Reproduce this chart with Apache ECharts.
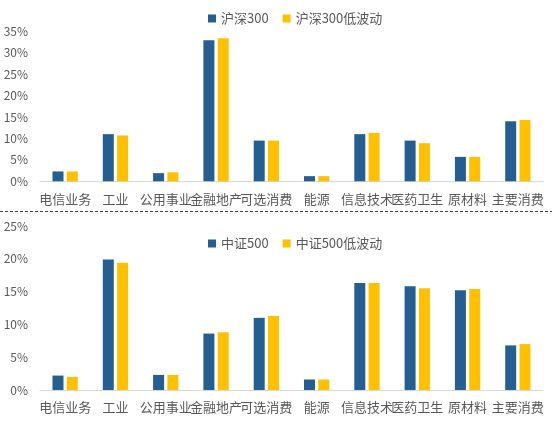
<!DOCTYPE html>
<html><head><meta charset="utf-8">
<script src="https://cdn.jsdelivr.net/npm/echarts@6/dist/echarts.min.js"></script>
<style>html,body{margin:0;padding:0;background:#fff}#c{width:554px;height:421px}</style>
</head><body><div id="c"></div>
<script>
var categories = ['电信业务','工业','公用事业','金融地产','可选消费','能源','信息技术','医药卫生','原材料','主要消费'];
var hs300 = [2.3, 11.0, 1.9, 32.9, 9.5, 1.2, 11.0, 9.5, 5.7, 14.0];
var hs300LowVol = [2.3, 10.7, 2.1, 33.4, 9.5, 1.2, 11.3, 8.9, 5.7, 14.3];
var zz500 = [2.2, 19.9, 2.3, 8.6, 11.0, 1.6, 16.3, 15.8, 15.2, 6.8];
var zz500LowVol = [2.0, 19.4, 2.3, 8.8, 11.3, 1.6, 16.3, 15.5, 15.4, 7.0];
var topTicks = [0, 35, 5];
var bottomTicks = [0, 25, 5];

var blue = '#255E91', yellow = '#FFC000';
var font = '"Microsoft YaHei","Noto Sans CJK SC",sans-serif';
var chart = echarts.init(document.getElementById('c'));
function xAxis(i){return {type:'category',gridIndex:i,data:categories,axisTick:{show:false},
  axisLine:{lineStyle:{color:'#D9D9D9',width:1}},
  axisLabel:{color:'#595959',fontSize:13,fontFamily:font,margin:11,interval:0}};}
function yAxis(i,t){return {type:'value',gridIndex:i,min:t[0],max:t[1],interval:t[2],
  splitLine:{show:false},axisLine:{show:false},axisTick:{show:false},
  axisLabel:{color:'#595959',fontSize:12,fontFamily:font,margin:12,formatter:'{value}%'}};}
function bar(name,data,color,i){return {name:name,type:'bar',xAxisIndex:i,yAxisIndex:i,data:data,
  barWidth:11,barGap:'30%',itemStyle:{color:color}};}
chart.setOption({
  animation:false,
  legend:[
    {data:['沪深300','沪深300低波动'],top:7,left:203,itemWidth:8,itemHeight:8,itemGap:14,icon:'rect',
      textStyle:{color:'#595959',fontSize:13,fontFamily:font}},
    {data:['中证500','中证500低波动'],top:232,left:203,itemWidth:8,itemHeight:8,itemGap:14,icon:'rect',
      textStyle:{color:'#595959',fontSize:13,fontFamily:font}}
  ],
  grid:[
    {left:40,width:503,top:31.3,height:150},
    {left:40,width:503,top:226,height:164}
  ],
  xAxis:[xAxis(0),xAxis(1)],
  yAxis:[yAxis(0,topTicks),yAxis(1,bottomTicks)],
  series:[
    bar('沪深300',hs300,blue,0),bar('沪深300低波动',hs300LowVol,yellow,0),
    bar('中证500',zz500,blue,1),bar('中证500低波动',zz500LowVol,yellow,1)
  ],
  graphic:[{type:'line',shape:{x1:0,y1:211.5,x2:552,y2:211.5},
    style:{stroke:'#404040',lineWidth:1,lineDash:[3,2]}}]
});
</script></body></html>
